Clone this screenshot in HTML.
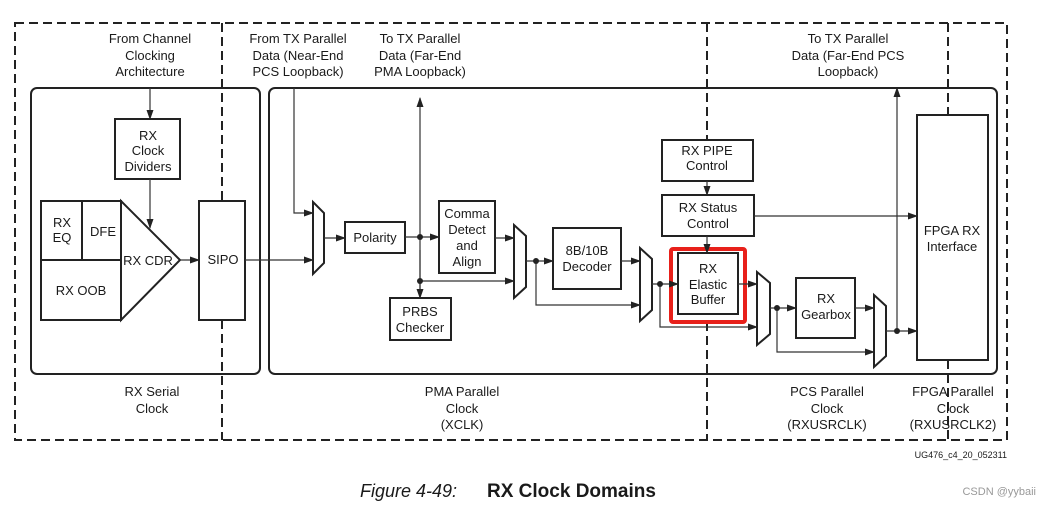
<!DOCTYPE html>
<html><head><meta charset="utf-8"><style>
html,body{margin:0;padding:0;background:#fff;}
svg{display:block;}
text{font-family:"Liberation Sans",Arial,sans-serif;font-size:13px;fill:#1a1a1a;}
</style></head><body>
<svg width="1050" height="507" viewBox="0 0 1050 507" xmlns="http://www.w3.org/2000/svg">
<defs>
<marker id="a" markerWidth="10" markerHeight="8" refX="9" refY="4" orient="auto" markerUnits="userSpaceOnUse"><path d="M0,0.5 L10,4 L0,7.5z" fill="#222"/></marker>
</defs>
<g fill="none" stroke="#222" stroke-width="2" stroke-dasharray="9,5">
<rect x="15" y="23" width="992" height="417"/>
<line x1="222" y1="23" x2="222" y2="201"/>
<line x1="222" y1="320" x2="222" y2="440"/>
<line x1="707" y1="23" x2="707" y2="140"/>
<line x1="707" y1="322" x2="707" y2="440"/>
<line x1="948" y1="23" x2="948" y2="115"/>
<line x1="948" y1="360" x2="948" y2="440"/>
</g>
<g fill="none" stroke="#222" stroke-width="2">
<rect x="31" y="88" width="229" height="286" rx="6"/>
<rect x="269" y="88" width="728" height="286" rx="6"/>
</g>
<g fill="#fff" stroke="#222" stroke-width="2">
<rect x="115" y="119" width="65" height="60"/>
<rect x="41" y="201" width="41" height="59"/>
<rect x="82" y="201" width="39" height="59"/>
<rect x="41" y="260" width="80" height="60"/>
<path d="M121,201 L180,260 L121,320 Z"/>
<rect x="199" y="201" width="46" height="119"/>
<rect x="345" y="222" width="60" height="31"/>
<rect x="439" y="201" width="56" height="72"/>
<rect x="553" y="228" width="68" height="61"/>
<rect x="390" y="298" width="61" height="42"/>
<rect x="662" y="140" width="91" height="41"/>
<rect x="662" y="195" width="92" height="41"/>
<rect x="678" y="253" width="60" height="61"/>
<rect x="796" y="278" width="59" height="60"/>
<rect x="917" y="115" width="71" height="245"/>
<path d="M313,202 L324,213 L324,263 L313,274 Z"/>
<path d="M514,225 L526,236 L526,287 L514,298 Z"/>
<path d="M640,248 L652,259 L652,310 L640,321 Z"/>
<path d="M757,272 L770,283 L770,334 L757,345 Z"/>
<path d="M874,295 L886,306 L886,356 L874,367 Z"/>
</g>
<rect x="671" y="249" width="74" height="73" fill="none" stroke="#e8201a" stroke-width="4" rx="2"/>
<g fill="none" stroke="#333" stroke-width="1.2" marker-end="url(#a)">
<line x1="150" y1="88" x2="150" y2="119"/>
<line x1="150" y1="179" x2="150" y2="228"/>
<line x1="180" y1="260" x2="199" y2="260"/>
<line x1="245" y1="260" x2="313" y2="260"/>
<polyline points="294,88 294,213 313,213"/>
<line x1="324" y1="238" x2="345" y2="238"/>
<line x1="405" y1="237" x2="439" y2="237"/>
<line x1="420" y1="298" x2="420" y2="98"/>
<line x1="420" y1="281" x2="514" y2="281"/>
<line x1="420" y1="250" x2="420" y2="298"/>
<line x1="495" y1="238" x2="514" y2="238"/>
<line x1="526" y1="261" x2="553" y2="261"/>
<polyline points="536,261 536,305 640,305"/>
<line x1="621" y1="261" x2="640" y2="261"/>
<line x1="652" y1="284" x2="678" y2="284"/>
<polyline points="660,284 660,327 757,327"/>
<line x1="738" y1="284" x2="757" y2="284"/>
<line x1="707" y1="181" x2="707" y2="195"/>
<line x1="707" y1="236" x2="707" y2="253"/>
<line x1="754" y1="216" x2="917" y2="216"/>
<line x1="770" y1="308" x2="796" y2="308"/>
<polyline points="777,308 777,352 874,352"/>
<line x1="855" y1="308" x2="874" y2="308"/>
<line x1="886" y1="331" x2="917" y2="331"/>
<line x1="897" y1="331" x2="897" y2="88"/>
</g>
<g fill="#222">
<circle cx="420" cy="237" r="3"/><circle cx="420" cy="281" r="3"/>
<circle cx="536" cy="261" r="3"/><circle cx="660" cy="284" r="3"/>
<circle cx="777" cy="308" r="3"/><circle cx="897" cy="331" r="3"/>
</g>
<g text-anchor="middle">
<text x="150" y="43">From Channel</text><text x="150" y="60">Clocking</text><text x="150" y="76">Architecture</text>
<text x="298" y="43">From TX Parallel</text><text x="298" y="60">Data (Near-End</text><text x="298" y="76">PCS Loopback)</text>
<text x="420" y="43">To TX Parallel</text><text x="420" y="60">Data (Far-End</text><text x="420" y="76">PMA Loopback)</text>
<text x="848" y="43">To TX Parallel</text><text x="848" y="60">Data (Far-End PCS</text><text x="848" y="76">Loopback)</text>
<text x="148" y="140">RX</text><text x="148" y="155">Clock</text><text x="148" y="171">Dividers</text>
<text x="62" y="227">RX</text><text x="62" y="242">EQ</text>
<text x="103" y="236">DFE</text>
<text x="81" y="295">RX OOB</text>
<text x="148" y="265">RX CDR</text>
<text x="223" y="264">SIPO</text>
<text x="375" y="242">Polarity</text>
<text x="467" y="218">Comma</text><text x="467" y="234">Detect</text><text x="467" y="250">and</text><text x="467" y="266">Align</text>
<text x="587" y="255">8B/10B</text><text x="587" y="271">Decoder</text>
<text x="420" y="316">PRBS</text><text x="420" y="332">Checker</text>
<text x="707" y="155">RX PIPE</text><text x="707" y="170">Control</text>
<text x="708" y="212">RX Status</text><text x="708" y="228">Control</text>
<text x="708" y="273">RX</text><text x="708" y="289">Elastic</text><text x="708" y="304">Buffer</text>
<text x="826" y="303">RX</text><text x="826" y="319">Gearbox</text>
<text x="952" y="235">FPGA RX</text><text x="952" y="251">Interface</text>
<text x="152" y="396">RX Serial</text><text x="152" y="413">Clock</text>
<text x="462" y="396">PMA Parallel</text><text x="462" y="413">Clock</text><text x="462" y="429">(XCLK)</text>
<text x="827" y="396">PCS Parallel</text><text x="827" y="413">Clock</text><text x="827" y="429">(RXUSRCLK)</text>
<text x="953" y="396">FPGA Parallel</text><text x="953" y="413">Clock</text><text x="953" y="429">(RXUSRCLK2)</text>
</g>
<text x="1007" y="458" text-anchor="end" style="font-size:9px">UG476_c4_20_052311</text>
<text x="360" y="497" style="font-size:18px;font-style:italic">Figure 4-49:</text>
<text x="487" y="497" style="font-size:19px;font-weight:bold">RX Clock Domains</text>
<text x="1036" y="495" text-anchor="end" style="font-size:11px;fill:#999">CSDN @yybaii</text>
</svg>
</body></html>
